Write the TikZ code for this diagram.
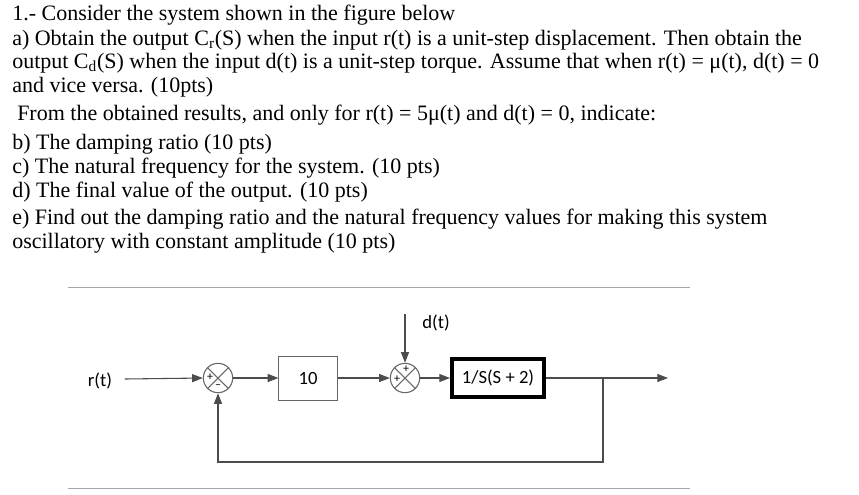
\documentclass[tikz,border=0pt]{standalone}
\usepackage{fontspec}
\setmainfont{Liberation Serif}
\newfontfamily\dfont{Carlito}
\usetikzlibrary{arrows.meta}
\begin{document}
\begin{tikzpicture}[x=0.75pt,y=-0.75pt,
 tx/.style={anchor=base west,inner sep=0pt,font=\fontsize{16.5}{19}\selectfont},
 dg/.style={font=\dfont\fontsize{14}{16}\selectfont},
 sumj/.style={draw=gray!80!black,thick,circle,minimum size=22pt,inner sep=0pt},
 blk/.style={draw,inner sep=0pt,dg},
 sig/.style={thick,gray!60!black,-{Triangle[length=8pt,width=6pt]}}]
\useasboundingbox (0,0) rectangle (859,494);
\node[tx] (l1) at (12,20) {1.- Consider the system shown in the figure below};
\node[tx] (l2) at (12,45) {a) Obtain the output C\textsubscript{r}(S) when the input r(t) is a unit-step displacement. Then obtain the};
\node[tx] (l3) at (12,68) {output C\textsubscript{d}(S) when the input d(t) is a unit-step torque. Assume that when r(t) = μ(t), d(t) = 0};
\node[tx] (l4) at (12,92) {and vice versa. (10pts)};
\node[tx] (l5) at (17,120) {From the obtained results, and only for r(t) = 5μ(t) and d(t) = 0, indicate:};
\node[tx] (l6) at (12,149) {b) The damping ratio (10 pts)};
\node[tx] (l7) at (12,173) {c) The natural frequency for the system. (10 pts)};
\node[tx] (l8) at (12,197) {d) The final value of the output. (10 pts)};
\node[tx] (l9) at (12,224) {e) Find out the damping ratio and the natural frequency values for making this system};
\node[tx] (l10) at (12,248) {oscillatory with constant amplitude (10 pts)};
% frame lines
\draw[gray!70] (68,287) -- (690,287);
\draw[gray!70] (68,488) -- (690,488);
% diagram
\node[dg] (r) at (100,381) {r(t)};
\node[sumj] (s1) at (218,378) {};
\draw[thick,gray!80!black] (s1.45) -- (s1.225) (s1.135) -- (s1.315);
\node[dg,font=\dfont\fontsize{9}{9}\selectfont] at (210,377) {+};
\node[dg,font=\dfont\fontsize{9}{9}\selectfont] at (218,387) {–};
\node[blk,draw=gray!80!black,minimum width=44pt,minimum height=33pt] (g) at (308,378) {10};
\node[sumj] (s2) at (405,378) {};
\draw[thick,gray!80!black] (s2.45) -- (s2.225) (s2.135) -- (s2.315);
\node[dg,font=\dfont\fontsize{9}{9}\selectfont] at (397,379) {+};
\node[dg,font=\dfont\fontsize{9}{9}\selectfont] at (406,369) {+};
\node[blk,line width=3pt,minimum width=69pt,minimum height=28pt] (p) at (498,378) {1/S(S + 2)};
\node[dg] (d) at (436,323) {d(t)};
\coordinate (dtop) at (405,314);
\coordinate (out) at (668,378);
\coordinate (fb) at (603,378);
\coordinate (fb1) at (603,462);
\coordinate (fb2) at (218,462);
\draw[sig] (r.east) ++(8,-2) -- (s1.west);
\draw[sig] (s1) -- (g);
\draw[sig] (g) -- (s2);
\draw[sig] (s2) -- (p);
\draw[sig] (dtop) -- (s2.north);
\draw[sig] (p) -- (out);
\draw[sig] (fb) -- (fb1) -- (fb2) -- (s1.south);
\end{tikzpicture}
\end{document}
